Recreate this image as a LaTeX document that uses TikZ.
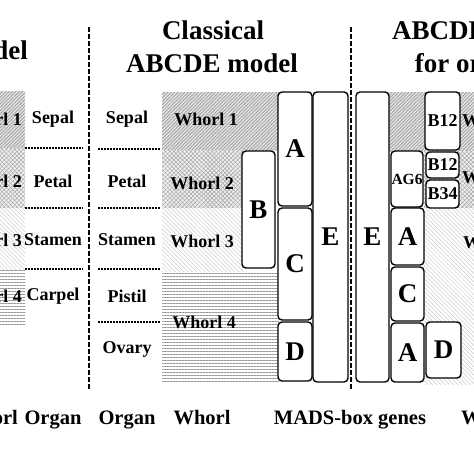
\documentclass[tikz,border=0pt]{standalone}
\usepackage{fontspec}
\setmainfont{Liberation Serif}
\usetikzlibrary{patterns.meta}
\tikzset{
  gbox/.style={draw=black, line width=1.4pt, rounded corners=4pt, fill=white, inner sep=0pt,
    font=\fontsize{27}{28}\selectfont\bfseries},
  sbox/.style={gbox, font=\fontsize{18}{19}\selectfont\bfseries},
  tbox/.style={gbox, font=\fontsize{15.5}{16}\selectfont\bfseries},
  lbl/.style={font=\fontsize{18}{19}\selectfont\bfseries, inner sep=0pt},
  bot/.style={font=\fontsize{20.5}{21}\selectfont\bfseries, inner sep=0pt, anchor=base},
  ttl/.style={font=\fontsize{27}{31}\selectfont\bfseries, inner sep=0pt, align=center},
  wone/.style={fill=gray!22, postaction={pattern={Lines[angle=45,distance=2.4pt,line width=0.7pt]}, pattern color=gray!80}},
  wtwo/.style={fill=gray!10, postaction={pattern={Hatch[angle=45,distance=3pt,line width=0.6pt]}, pattern color=gray!65}},
  wthree/.style={fill=white, postaction={pattern={Lines[angle=-45,distance=3pt,line width=0.5pt]}, pattern color=gray!40}},
  wfour/.style={fill=white, postaction={pattern={Lines[angle=0,distance=3pt,line width=0.8pt]}, pattern color=gray!80}},
  vdash/.style={line width=1.6pt, dash pattern=on 4.5pt off 2.5pt},
  hdot/.style={line width=1.3pt, dash pattern=on 1.5pt off 1.5pt},
}
\begin{document}
\begin{tikzpicture}[x=1pt,y=-1pt]
\useasboundingbox (0,0) rectangle (474,474);
\clip (0,0) rectangle (474,474);
\fill[white] (0,0) rectangle (474,474);

% ---------- left section backgrounds ----------
\path[wone] (0,91) rectangle (25,148);
\path[wtwo] (0,148) rectangle (25,208);
\path[wthree] (0,208) rectangle (25,270);
\path[wfour] (0,270) rectangle (25,325);

% ---------- middle section backgrounds ----------
\path[wone] (162,92) rectangle (279,150);
\path[wtwo] (162,150) rectangle (243,208);
\path[wthree] (162,208) rectangle (243,272);
\path[wfour] (162,272) rectangle (279,381);

% ---------- right section backgrounds ----------
\path[wone] (389,92) rectangle (474,151);
\path[wtwo] (424,151) rectangle (474,208);
\path[wthree] (424,208) rectangle (474,384);

% ---------- titles ----------
\node[ttl, anchor=east] (tl) at (28,50) {ABCDE model};
\node[ttl] (tm1) at (213,30) {Classical};
\node[ttl] (tm2) at (212,63) {ABCDE model};
\node[ttl] (tr1) at (478,30) {ABCDE model};
\node[ttl] (tr2) at (478,63) {for orchids};

% ---------- dashed dividers ----------
\coordinate (d1t) at (89,27); \coordinate (d1b) at (89,391);
\coordinate (d2t) at (351,27); \coordinate (d2b) at (351,391);
\draw[vdash] (d1t) -- (d1b);
\draw[vdash] (d2t) -- (d2b);

% ---------- dotted separators ----------
\foreach \yy/\nm in {148/a,208/b,269/c}{
  \coordinate (la\nm) at (25,\yy); \coordinate (lb\nm) at (83,\yy);
  \draw[hdot] (la\nm) -- (lb\nm);
}
\foreach \yy/\nm in {149/a,208/b,269/c,322/d}{
  \coordinate (ma\nm) at (98,\yy); \coordinate (mb\nm) at (161,\yy);
  \draw[hdot] (ma\nm) -- (mb\nm);
}

% ---------- left labels ----------
\node[lbl, anchor=east] (lw1) at (22,119) {Whorl 1};
\node[lbl, anchor=east] (lw2) at (22,181) {Whorl 2};
\node[lbl, anchor=east] (lw3) at (22,240) {Whorl 3};
\node[lbl, anchor=east] (lw4) at (22,296) {Whorl 4};
\node[lbl] (lo1) at (53,119) {Sepal};
\node[lbl] (lo2) at (53,181) {Petal};
\node[lbl] (lo3) at (53,240) {Stamen};
\node[lbl] (lo4) at (53,296) {Carpel};

% ---------- middle labels ----------
\node[lbl] (mo1) at (127,119) {Sepal};
\node[lbl] (mo2) at (127,181) {Petal};
\node[lbl] (mo3) at (127,240) {Stamen};
\node[lbl] (mo4) at (127,296) {Pistil};
\node[lbl] (mo5) at (127,349) {Ovary};
\node[lbl] (mw1) at (206,119) {Whorl 1};
\node[lbl] (mw2) at (202,183) {Whorl 2};
\node[lbl] (mw3) at (202,241) {Whorl 3};
\node[lbl] (mw4) at (204,322) {Whorl 4};

% ---------- middle boxes ----------
\node[gbox, minimum width=33pt, minimum height=117pt] (mB) at (258.5,209.5) {B};
\node[gbox, minimum width=34pt, minimum height=114pt] (mA) at (295,149) {A};
\node[gbox, minimum width=34pt, minimum height=112pt] (mC) at (295,264) {C};
\node[gbox, minimum width=34pt, minimum height=59pt] (mD) at (295,351.5) {D};
\node[gbox, minimum width=35pt, minimum height=290pt] (mE) at (330.5,237) {E};

% ---------- right boxes ----------
\node[gbox, minimum width=33pt, minimum height=290pt] (rE) at (372.5,237) {E};
\node[tbox, minimum width=32pt, minimum height=56pt] (rAG) at (407,179) {AG6};
\node[gbox, minimum width=33pt, minimum height=57pt] (rA1) at (407.5,236.5) {A};
\node[gbox, minimum width=33pt, minimum height=54pt] (rC) at (407.5,294) {C};
\node[gbox, minimum width=33pt, minimum height=59pt] (rA2) at (407.5,352.5) {A};
\node[sbox, minimum width=35pt, minimum height=58pt] (rB1) at (442.5,121) {B12};
\node[sbox, minimum width=33pt, minimum height=26pt] (rB2) at (442.5,165) {B12};
\node[sbox, minimum width=33pt, minimum height=28pt] (rB3) at (442.5,194) {B34};
\node[gbox, minimum width=35pt, minimum height=56pt] (rD) at (443.5,350) {D};

\node[lbl, anchor=west] (rw1) at (462,120) {Whorl 1};
\node[lbl, anchor=west] (rw2) at (462,177) {Whorl 2};
\node[lbl, anchor=west] (rw3) at (463,242) {Whorl 3};

% ---------- bottom labels ----------
\node[bot, anchor=base east] (bl1) at (18,424) {Whorl};
\node[bot] (bl2) at (53,424) {Organ};
\node[bot] (bm1) at (127,424) {Organ};
\node[bot] (bm2) at (202,424) {Whorl};
\node[bot] (bm3) at (350,424) {MADS-box genes};
\node[bot, anchor=base west] (br1) at (461,424) {Whorl};
\end{tikzpicture}
\end{document}
